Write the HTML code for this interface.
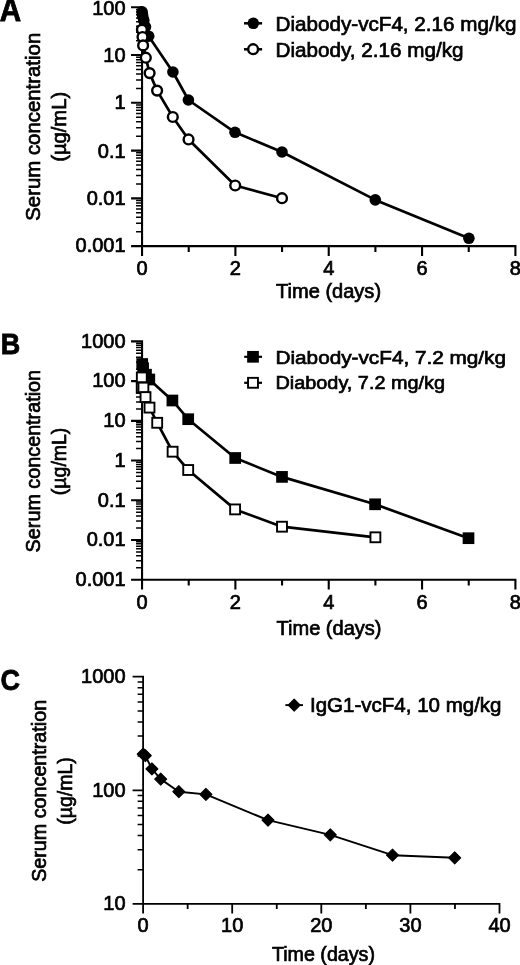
<!DOCTYPE html><html><head><meta charset="utf-8"><title>Serum concentration</title><style>html,body{margin:0;padding:0;background:#fff}svg{display:block}text{font-family:"Liberation Sans", Arial, Helvetica, sans-serif;fill:#000}</style></head><body>
<svg width="520" height="965" viewBox="0 0 520 965">
<rect width="520" height="965" fill="#fff"/>
<path d="M136.05 231.72H142.05 M136.05 223.31H142.05 M136.05 217.35H142.05 M136.05 212.72H142.05 M136.05 208.94H142.05 M136.05 205.74H142.05 M136.05 202.97H142.05 M136.05 200.53H142.05 M136.05 183.96H142.05 M136.05 175.55H142.05 M136.05 169.59H142.05 M136.05 164.96H142.05 M136.05 161.18H142.05 M136.05 157.98H142.05 M136.05 155.21H142.05 M136.05 152.77H142.05 M136.05 136.20H142.05 M136.05 127.79H142.05 M136.05 121.83H142.05 M136.05 117.20H142.05 M136.05 113.42H142.05 M136.05 110.22H142.05 M136.05 107.45H142.05 M136.05 105.01H142.05 M136.05 88.44H142.05 M136.05 80.03H142.05 M136.05 74.07H142.05 M136.05 69.44H142.05 M136.05 65.66H142.05 M136.05 62.46H142.05 M136.05 59.69H142.05 M136.05 57.25H142.05 M136.05 40.68H142.05 M136.05 32.27H142.05 M136.05 26.31H142.05 M136.05 21.68H142.05 M136.05 17.90H142.05 M136.05 14.70H142.05 M136.05 11.93H142.05 M136.05 9.49H142.05" stroke="#000" stroke-width="1.5" fill="none"/>
<path d="M142.05 6.25V256.00 M131.05 246.1H516.46 M131.05 198.34H142.05 M131.05 150.58H142.05 M131.05 102.82H142.05 M131.05 55.06H142.05 M131.05 7.30H142.05 M235.39 246.1V256.00 M328.73 246.1V256.00 M422.07 246.1V256.00 M515.41 246.1V256.00 M188.72 246.1V251.90 M282.06 246.1V251.90 M375.40 246.1V251.90 M468.74 246.1V251.90" stroke="#000" stroke-width="2.1" fill="none"/>
<text transform="translate(-0.30 21.40) scale(0.97 1.1)" font-size="30.5" font-weight="bold" stroke="#000" stroke-width="0.8">A</text>
<text transform="translate(125.60 14.50)" font-size="20" text-anchor="end" stroke="#000" stroke-width="0.7">100</text>
<text transform="translate(125.60 61.86)" font-size="20" text-anchor="end" stroke="#000" stroke-width="0.7">10</text>
<text transform="translate(125.60 109.42)" font-size="20" text-anchor="end" stroke="#000" stroke-width="0.7">1</text>
<text transform="translate(125.60 157.88)" font-size="20" text-anchor="end" stroke="#000" stroke-width="0.7">0.1</text>
<text transform="translate(125.60 205.14)" font-size="20" text-anchor="end" stroke="#000" stroke-width="0.7">0.01</text>
<text transform="translate(125.60 251.90)" font-size="20" text-anchor="end" stroke="#000" stroke-width="0.7">0.001</text>
<text transform="translate(142.05 275.30)" font-size="20" text-anchor="middle" stroke="#000" stroke-width="0.7">0</text>
<text transform="translate(235.39 275.30)" font-size="20" text-anchor="middle" stroke="#000" stroke-width="0.7">2</text>
<text transform="translate(328.73 275.30)" font-size="20" text-anchor="middle" stroke="#000" stroke-width="0.7">4</text>
<text transform="translate(422.07 275.30)" font-size="20" text-anchor="middle" stroke="#000" stroke-width="0.7">6</text>
<text transform="translate(515.41 275.30)" font-size="20" text-anchor="middle" stroke="#000" stroke-width="0.7">8</text>
<text transform="translate(328.55 298.30)" font-size="20" text-anchor="middle" textLength="105" lengthAdjust="spacingAndGlyphs" stroke="#000" stroke-width="0.7">Time (days)</text>
<text transform="translate(39.80 126.80) rotate(-90)" font-size="20" text-anchor="middle" textLength="188" lengthAdjust="spacingAndGlyphs" stroke="#000" stroke-width="0.7">Serum concentration</text>
<text transform="translate(66.30 126.85) rotate(-90)" font-size="20" text-anchor="middle" textLength="70" lengthAdjust="spacingAndGlyphs" stroke="#000" stroke-width="0.7">(µg/mL)</text>
<path d="M142.10 11.80L142.40 14.50L142.90 17.20L143.80 20.50L145.50 26.80L148.70 36.20L172.90 72.00L188.40 100.00L235.00 132.30L282.00 152.00L375.30 199.90L468.90 238.30" stroke="#000" stroke-width="2.7" fill="none" stroke-linejoin="round"/>
<circle cx="142.10" cy="11.80" r="5.8"/>
<circle cx="142.40" cy="14.50" r="5.8"/>
<circle cx="142.90" cy="17.20" r="5.8"/>
<circle cx="143.80" cy="20.50" r="5.8"/>
<circle cx="145.50" cy="26.80" r="5.8"/>
<circle cx="148.70" cy="36.20" r="5.8"/>
<circle cx="172.90" cy="72.00" r="5.8"/>
<circle cx="188.40" cy="100.00" r="5.8"/>
<circle cx="235.00" cy="132.30" r="5.8"/>
<circle cx="282.00" cy="152.00" r="5.8"/>
<circle cx="375.30" cy="199.90" r="5.8"/>
<circle cx="468.90" cy="238.30" r="5.8"/>
<path d="M141.90 29.60L142.50 37.00L143.10 45.40L145.80 57.70L149.60 73.10L157.10 90.60L172.80 117.00L188.55 139.45L235.20 185.50L282.00 198.20" stroke="#000" stroke-width="2.7" fill="none" stroke-linejoin="round"/>
<circle cx="141.90" cy="29.60" r="4.90" fill="#fff" stroke="#000" stroke-width="2.4"/>
<circle cx="142.50" cy="37.00" r="4.90" fill="#fff" stroke="#000" stroke-width="2.4"/>
<circle cx="143.10" cy="45.40" r="4.90" fill="#fff" stroke="#000" stroke-width="2.4"/>
<circle cx="145.80" cy="57.70" r="4.90" fill="#fff" stroke="#000" stroke-width="2.4"/>
<circle cx="149.60" cy="73.10" r="4.90" fill="#fff" stroke="#000" stroke-width="2.4"/>
<circle cx="157.10" cy="90.60" r="4.90" fill="#fff" stroke="#000" stroke-width="2.4"/>
<circle cx="172.80" cy="117.00" r="4.90" fill="#fff" stroke="#000" stroke-width="2.4"/>
<circle cx="188.55" cy="139.45" r="4.90" fill="#fff" stroke="#000" stroke-width="2.4"/>
<circle cx="235.20" cy="185.50" r="4.90" fill="#fff" stroke="#000" stroke-width="2.4"/>
<circle cx="282.00" cy="198.20" r="4.90" fill="#fff" stroke="#000" stroke-width="2.4"/>
<path d="M244.00 23.30L262.10 23.30" stroke="#000" stroke-width="2.5" fill="none" stroke-linejoin="round"/>
<circle cx="253.30" cy="23.30" r="5.8"/>
<path d="M244.00 49.30L262.10 49.30" stroke="#000" stroke-width="2.5" fill="none" stroke-linejoin="round"/>
<circle cx="253.10" cy="49.20" r="4.90" fill="#fff" stroke="#000" stroke-width="2.4"/>
<text transform="translate(275.50 30.50)" font-size="20.3" textLength="241" lengthAdjust="spacingAndGlyphs" stroke="#000" stroke-width="0.7">Diabody-vcF4, 2.16 mg/kg</text>
<text transform="translate(275.50 57.40)" font-size="20.3" textLength="188" lengthAdjust="spacingAndGlyphs" stroke="#000" stroke-width="0.7">Diabody, 2.16 mg/kg</text>
<path d="M136.05 567.74H142.05 M136.05 560.75H142.05 M136.05 555.79H142.05 M136.05 551.94H142.05 M136.05 548.79H142.05 M136.05 546.14H142.05 M136.05 543.83H142.05 M136.05 541.80H142.05 M136.05 528.03H142.05 M136.05 521.03H142.05 M136.05 516.07H142.05 M136.05 512.22H142.05 M136.05 509.08H142.05 M136.05 506.42H142.05 M136.05 504.12H142.05 M136.05 502.08H142.05 M136.05 488.31H142.05 M136.05 481.32H142.05 M136.05 476.35H142.05 M136.05 472.51H142.05 M136.05 469.36H142.05 M136.05 466.70H142.05 M136.05 464.40H142.05 M136.05 462.37H142.05 M136.05 448.59H142.05 M136.05 441.60H142.05 M136.05 436.64H142.05 M136.05 432.79H142.05 M136.05 429.64H142.05 M136.05 426.99H142.05 M136.05 424.68H142.05 M136.05 422.65H142.05 M136.05 408.88H142.05 M136.05 401.88H142.05 M136.05 396.92H142.05 M136.05 393.07H142.05 M136.05 389.93H142.05 M136.05 387.27H142.05 M136.05 384.97H142.05 M136.05 382.93H142.05 M136.05 369.16H142.05 M136.05 362.17H142.05 M136.05 357.20H142.05 M136.05 353.36H142.05 M136.05 350.21H142.05 M136.05 347.55H142.05 M136.05 345.25H142.05 M136.05 343.22H142.05" stroke="#000" stroke-width="1.5" fill="none"/>
<path d="M142.05 340.35V589.60 M131.05 579.7H516.46 M131.05 539.98H142.05 M131.05 500.27H142.05 M131.05 460.55H142.05 M131.05 420.83H142.05 M131.05 381.12H142.05 M131.05 341.40H142.05 M235.39 579.7V589.60 M328.73 579.7V589.60 M422.07 579.7V589.60 M515.41 579.7V589.60 M188.72 579.7V585.50 M282.06 579.7V585.50 M375.40 579.7V585.50 M468.74 579.7V585.50" stroke="#000" stroke-width="2.1" fill="none"/>
<text transform="translate(0.80 354.30) scale(0.9 1)" font-size="30" font-weight="bold" stroke="#000" stroke-width="0.8">B</text>
<text transform="translate(125.60 347.70)" font-size="20" text-anchor="end" stroke="#000" stroke-width="0.7">1000</text>
<text transform="translate(125.60 387.42)" font-size="20" text-anchor="end" stroke="#000" stroke-width="0.7">100</text>
<text transform="translate(125.60 427.13)" font-size="20" text-anchor="end" stroke="#000" stroke-width="0.7">10</text>
<text transform="translate(125.60 466.85)" font-size="20" text-anchor="end" stroke="#000" stroke-width="0.7">1</text>
<text transform="translate(125.60 506.57)" font-size="20" text-anchor="end" stroke="#000" stroke-width="0.7">0.1</text>
<text transform="translate(125.60 546.28)" font-size="20" text-anchor="end" stroke="#000" stroke-width="0.7">0.01</text>
<text transform="translate(125.60 586.00)" font-size="20" text-anchor="end" stroke="#000" stroke-width="0.7">0.001</text>
<text transform="translate(142.05 609.00)" font-size="20" text-anchor="middle" stroke="#000" stroke-width="0.7">0</text>
<text transform="translate(235.39 609.00)" font-size="20" text-anchor="middle" stroke="#000" stroke-width="0.7">2</text>
<text transform="translate(328.73 609.00)" font-size="20" text-anchor="middle" stroke="#000" stroke-width="0.7">4</text>
<text transform="translate(422.07 609.00)" font-size="20" text-anchor="middle" stroke="#000" stroke-width="0.7">6</text>
<text transform="translate(515.41 609.00)" font-size="20" text-anchor="middle" stroke="#000" stroke-width="0.7">8</text>
<text transform="translate(329.00 634.80)" font-size="20" text-anchor="middle" textLength="105" lengthAdjust="spacingAndGlyphs" stroke="#000" stroke-width="0.7">Time (days)</text>
<text transform="translate(40.00 461.15) rotate(-90)" font-size="20" text-anchor="middle" textLength="182.5" lengthAdjust="spacingAndGlyphs" stroke="#000" stroke-width="0.7">Serum concentration</text>
<text transform="translate(66.10 461.40) rotate(-90)" font-size="20" text-anchor="middle" textLength="67.5" lengthAdjust="spacingAndGlyphs" stroke="#000" stroke-width="0.7">(µg/mL)</text>
<path d="M142.20 364.00L143.10 368.20L146.00 374.70L149.30 379.50L172.40 400.50L188.20 419.20L235.20 458.00L282.00 476.90L375.10 504.30L468.50 538.20" stroke="#000" stroke-width="2.7" fill="none" stroke-linejoin="round"/>
<rect x="136.35" y="358.15" width="11.70" height="11.70"/>
<rect x="137.25" y="362.35" width="11.70" height="11.70"/>
<rect x="140.15" y="368.85" width="11.70" height="11.70"/>
<rect x="143.45" y="373.65" width="11.70" height="11.70"/>
<rect x="166.55" y="394.65" width="11.70" height="11.70"/>
<rect x="182.35" y="413.35" width="11.70" height="11.70"/>
<rect x="229.35" y="452.15" width="11.70" height="11.70"/>
<rect x="276.15" y="471.05" width="11.70" height="11.70"/>
<rect x="369.25" y="498.45" width="11.70" height="11.70"/>
<rect x="462.65" y="532.35" width="11.70" height="11.70"/>
<path d="M141.80 377.40L141.70 387.80L143.40 387.60L145.50 397.10L149.50 407.60L157.20 422.80L172.60 451.70L188.20 470.00L235.10 509.40L282.00 526.70L375.40 537.30" stroke="#000" stroke-width="2.7" fill="none" stroke-linejoin="round"/>
<rect x="136.85" y="372.45" width="9.90" height="9.90" fill="#fff" stroke="#000" stroke-width="1.9"/>
<rect x="136.75" y="382.85" width="9.90" height="9.90" fill="#fff" stroke="#000" stroke-width="1.9"/>
<rect x="138.45" y="382.65" width="9.90" height="9.90" fill="#fff" stroke="#000" stroke-width="1.9"/>
<rect x="140.55" y="392.15" width="9.90" height="9.90" fill="#fff" stroke="#000" stroke-width="1.9"/>
<rect x="144.55" y="402.65" width="9.90" height="9.90" fill="#fff" stroke="#000" stroke-width="1.9"/>
<rect x="152.25" y="417.85" width="9.90" height="9.90" fill="#fff" stroke="#000" stroke-width="1.9"/>
<rect x="167.65" y="446.75" width="9.90" height="9.90" fill="#fff" stroke="#000" stroke-width="1.9"/>
<rect x="183.25" y="465.05" width="9.90" height="9.90" fill="#fff" stroke="#000" stroke-width="1.9"/>
<rect x="230.15" y="504.45" width="9.90" height="9.90" fill="#fff" stroke="#000" stroke-width="1.9"/>
<rect x="277.05" y="521.75" width="9.90" height="9.90" fill="#fff" stroke="#000" stroke-width="1.9"/>
<rect x="370.45" y="532.35" width="9.90" height="9.90" fill="#fff" stroke="#000" stroke-width="1.9"/>
<path d="M244.20 356.80L262.00 356.80" stroke="#000" stroke-width="2.2" fill="none" stroke-linejoin="round"/>
<rect x="247.15" y="350.95" width="11.70" height="11.70"/>
<path d="M244.20 382.80L262.00 382.80" stroke="#000" stroke-width="2.2" fill="none" stroke-linejoin="round"/>
<rect x="248.05" y="377.85" width="9.90" height="9.90" fill="#fff" stroke="#000" stroke-width="1.9"/>
<text transform="translate(275.50 363.60)" font-size="19.2" textLength="230.5" lengthAdjust="spacingAndGlyphs" stroke="#000" stroke-width="0.7">Diabody-vcF4, 7.2 mg/kg</text>
<text transform="translate(275.50 389.40)" font-size="19.2" textLength="169.5" lengthAdjust="spacingAndGlyphs" stroke="#000" stroke-width="0.7">Diabody, 7.2 mg/kg</text>
<path d="M137.60 869.70H143.1 M137.60 849.70H143.1 M137.60 835.51H143.1 M137.60 824.50H143.1 M137.60 815.50H143.1 M137.60 807.90H143.1 M137.60 801.31H143.1 M137.60 795.50H143.1 M137.60 756.10H143.1 M137.60 736.10H143.1 M137.60 721.91H143.1 M137.60 710.90H143.1 M137.60 701.90H143.1 M137.60 694.30H143.1 M137.60 687.71H143.1 M137.60 681.90H143.1" stroke="#000" stroke-width="1.5" fill="none"/>
<path d="M143.1 675.80V913.60 M132.60 903.9H500.40 M132.60 790.30H143.1 M132.60 676.70H143.1 M232.20 903.9V913.60 M321.30 903.9V913.60 M410.40 903.9V913.60 M499.50 903.9V913.60 M187.65 903.9V909.10 M276.75 903.9V909.10 M365.85 903.9V909.10 M454.95 903.9V909.10" stroke="#000" stroke-width="1.8" fill="none"/>
<text transform="translate(0.50 690.30) scale(0.9 1)" font-size="30" font-weight="bold" stroke="#000" stroke-width="0.8">C</text>
<text transform="translate(125.60 683.00)" font-size="20" text-anchor="end" stroke="#000" stroke-width="0.7">1000</text>
<text transform="translate(125.60 796.60)" font-size="20" text-anchor="end" stroke="#000" stroke-width="0.7">100</text>
<text transform="translate(125.60 910.20)" font-size="20" text-anchor="end" stroke="#000" stroke-width="0.7">10</text>
<text transform="translate(143.10 932.20)" font-size="20" text-anchor="middle" stroke="#000" stroke-width="0.7">0</text>
<text transform="translate(232.20 932.20)" font-size="20" text-anchor="middle" stroke="#000" stroke-width="0.7">10</text>
<text transform="translate(321.30 932.20)" font-size="20" text-anchor="middle" stroke="#000" stroke-width="0.7">20</text>
<text transform="translate(410.40 932.20)" font-size="20" text-anchor="middle" stroke="#000" stroke-width="0.7">30</text>
<text transform="translate(499.50 932.20)" font-size="20" text-anchor="middle" stroke="#000" stroke-width="0.7">40</text>
<text transform="translate(323.45 960.50)" font-size="20" text-anchor="middle" textLength="103" lengthAdjust="spacingAndGlyphs" stroke="#000" stroke-width="0.7">Time (days)</text>
<text transform="translate(45.70 790.85) rotate(-90)" font-size="20" text-anchor="middle" textLength="182" lengthAdjust="spacingAndGlyphs" stroke="#000" stroke-width="0.7">Serum concentration</text>
<text transform="translate(71.90 791.00) rotate(-90)" font-size="20" text-anchor="middle" textLength="67.5" lengthAdjust="spacingAndGlyphs" stroke="#000" stroke-width="0.7">(µg/mL)</text>
<path d="M143.20 754.10L145.30 755.60L151.90 768.90L160.70 779.10L178.80 791.70L205.90 794.40L268.00 820.20L330.30 834.80L392.50 855.20L454.70 857.80" stroke="#000" stroke-width="1.9" fill="none" stroke-linejoin="round"/>
<path d="M143.20 748.10L149.20 754.10L143.20 760.10L137.20 754.10Z" stroke="#000" stroke-width="1.1" stroke-linejoin="round"/>
<path d="M145.30 749.60L151.30 755.60L145.30 761.60L139.30 755.60Z" stroke="#000" stroke-width="1.1" stroke-linejoin="round"/>
<path d="M151.90 762.90L157.90 768.90L151.90 774.90L145.90 768.90Z" stroke="#000" stroke-width="1.1" stroke-linejoin="round"/>
<path d="M160.70 773.10L166.70 779.10L160.70 785.10L154.70 779.10Z" stroke="#000" stroke-width="1.1" stroke-linejoin="round"/>
<path d="M178.80 785.70L184.80 791.70L178.80 797.70L172.80 791.70Z" stroke="#000" stroke-width="1.1" stroke-linejoin="round"/>
<path d="M205.90 788.40L211.90 794.40L205.90 800.40L199.90 794.40Z" stroke="#000" stroke-width="1.1" stroke-linejoin="round"/>
<path d="M268.00 814.20L274.00 820.20L268.00 826.20L262.00 820.20Z" stroke="#000" stroke-width="1.1" stroke-linejoin="round"/>
<path d="M330.30 828.80L336.30 834.80L330.30 840.80L324.30 834.80Z" stroke="#000" stroke-width="1.1" stroke-linejoin="round"/>
<path d="M392.50 849.20L398.50 855.20L392.50 861.20L386.50 855.20Z" stroke="#000" stroke-width="1.1" stroke-linejoin="round"/>
<path d="M454.70 851.80L460.70 857.80L454.70 863.80L448.70 857.80Z" stroke="#000" stroke-width="1.1" stroke-linejoin="round"/>
<path d="M285.40 705.10L303.00 705.10" stroke="#000" stroke-width="1.9" fill="none" stroke-linejoin="round"/>
<path d="M294.20 699.10L300.20 705.10L294.20 711.10L288.20 705.10Z" stroke="#000" stroke-width="1.1" stroke-linejoin="round"/>
<text transform="translate(310.00 712.30)" font-size="20.3" textLength="191.5" lengthAdjust="spacingAndGlyphs" stroke="#000" stroke-width="0.7">IgG1-vcF4, 10 mg/kg</text>
</svg></body></html>
